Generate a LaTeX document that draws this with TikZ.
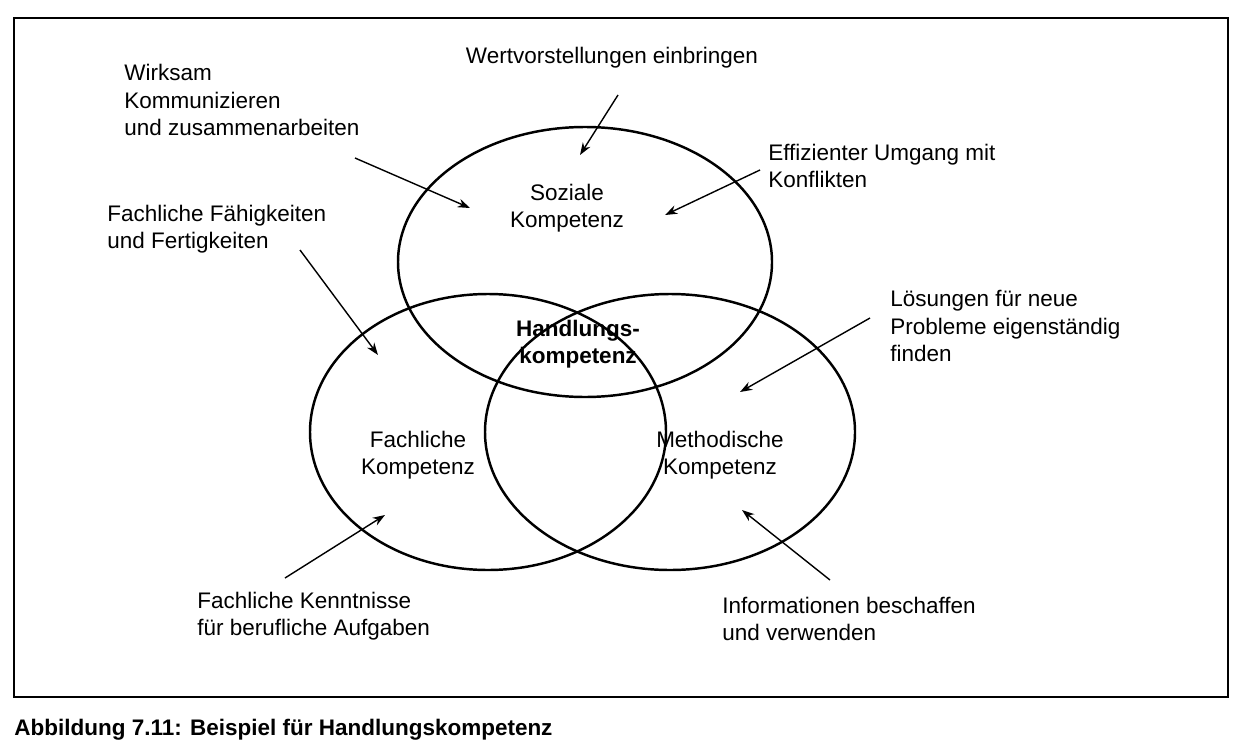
\documentclass[tikz,border=0pt]{standalone}
\usepackage{fontspec}
\setmainfont{Liberation Sans}
\usetikzlibrary{arrows.meta}
\begin{document}
\begin{tikzpicture}[x=0.02cm,y=-0.02cm,
  lab/.style={font=\fontsize{12.8}{15.5}\selectfont,align=left,inner sep=0pt,anchor=west},
  cen/.style={font=\fontsize{12.8}{15.5}\selectfont,align=center,inner sep=0pt},
  arr/.style={-{Stealth[length=7pt,width=5pt]},line width=0.8pt},
  ring/.style={line width=1.4pt}]
\useasboundingbox (0,0) rectangle (1246,750);
\draw[line width=1pt] (14,18) rectangle (1228,697);
\node[anchor=west,font=\bfseries\fontsize{12.8}{15}\selectfont,inner sep=0pt] (cap) at (14,730) {Abbildung 7.11: Beispiel für Handlungskompetenz};
\draw[ring] (585,262) ellipse (187 and 135);
\draw[ring] (488,432) ellipse (178 and 138);
\draw[ring] (670,432) ellipse (185 and 138);
\node[cen] (soz) at (567,208) {Soziale\\Kompetenz};
\node[cen,font=\bfseries\fontsize{12.8}{15.5}\selectfont] (hk) at (578,344) {Handlungs-\\kompetenz};
\node[cen] (fk) at (418,455) {Fachliche\\Kompetenz};
\node[cen] (mk) at (720,455) {Methodische\\Kompetenz};
\node[cen] (t1) at (612,58) {Wertvorstellungen einbringen};
\node[lab] (t2) at (124,100) {Wirksam\\Kommunizieren\\und zusammenarbeiten};
\node[lab] (t3) at (768,166) {Effizienter Umgang mit\\Konflikten};
\node[lab] (t4) at (107,229) {Fachliche Fähigkeiten\\und Fertigkeiten};
\node[lab] (t5) at (890,326) {Lösungen für neue\\Probleme eigenständig\\finden};
\node[lab] (t6) at (197,616) {Fachliche Kenntnisse\\für berufliche Aufgaben};
\node[lab] (t7) at (722,619) {Informationen beschaffen\\und verwenden};
\coordinate (a1) at (618,95); \coordinate (b1) at (580,155);
\coordinate (a2) at (355,158); \coordinate (b2) at (470,208);
\coordinate (a3) at (760,170); \coordinate (b3) at (665,215);
\coordinate (a4) at (300,250); \coordinate (b4) at (378,355);
\coordinate (a5) at (870,318); \coordinate (b5) at (740,392);
\coordinate (a6) at (285,578); \coordinate (b6) at (385,515);
\coordinate (a7) at (830,580); \coordinate (b7) at (742,510);
\foreach \i in {1,...,7} {\draw[arr] (a\i) -- (b\i);}
\end{tikzpicture}
\end{document}
